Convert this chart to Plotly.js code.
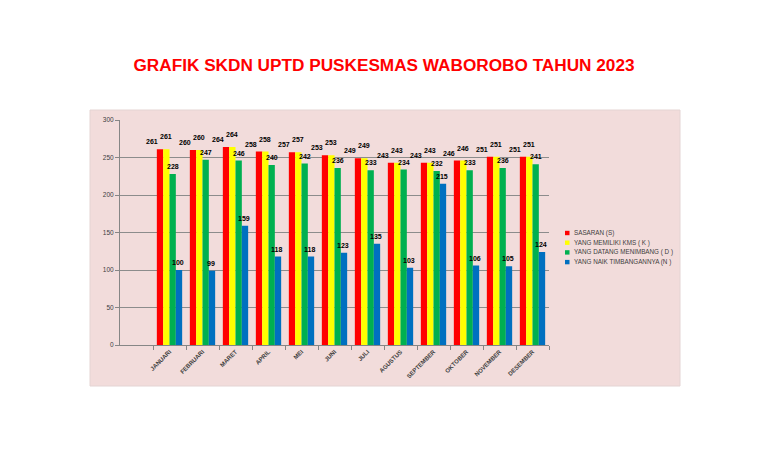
<!DOCTYPE html>
<html><head><meta charset="utf-8">
<script src="https://cdn.plot.ly/plotly-3.0.1.min.js"></script>
<style>html,body{margin:0;padding:0;background:#fff}#chart{width:768px;height:466px}</style>
</head><body><div id="chart"></div>
<script>
// ---- data ----
const months = ["JANUARI","FEBRUARI","MARET","APRIL","MEI","JUNI","JULI","AGUSTUS","SEPTEMBER","OKTOBER","NOVEMBER","DESEMBER"];
const sasaran = [261,260,264,258,257,253,249,243,243,246,251,251];
const memilikiKms = [261,260,264,258,257,253,249,243,243,246,251,251];
const datangMenimbang = [228,247,246,240,242,236,233,234,232,233,236,241];
const naikTimbangan = [100,99,159,118,118,123,135,103,215,106,105,124];
const seriesNames = ["SASARAN (S)","YANG MEMILIKI KMS ( K )","YANG DATANG MENIMBANG ( D )","YANG NAIK TIMBANGANNYA (N )"];
const yTicks = [0,50,100,150,200,250,300];

// ---- styles ----
const colors = ["#FF0000","#FFFF00","#00B050","#0070C0"];
const series = [sasaran, memilikiKms, datangMenimbang, naikTimbangan];
const pink = "#F2DCDB";
const bargap = 0.233;
const nS = series.length;
const barW = (1 - bargap) / nS;
const labelStyle = [ {dx:-8, dy:2}, {dx:0, dy:7}, {dx:0, dy:2}, {dx:-1, dy:2} ];

const traces = series.map((vals, s) => ({
  type: "bar", x: months, y: vals, name: seriesNames[s],
  marker: {color: colors[s], line: {width: 0}},
  showlegend: false, hoverinfo: "x+y+name"
}));

const annotations = [];
series.forEach((vals, s) => {
  const off = -0.5 + bargap / 2 + barW * (s + 0.5);
  vals.forEach((v, i) => {
    annotations.push({
      xref: "x", yref: "y", x: i + off, y: v, text: String(v),
      showarrow: false, yanchor: "bottom", xanchor: "center",
      xshift: labelStyle[s].dx, yshift: labelStyle[s].dy,
      font: {family: "Liberation Sans, Arial, sans-serif", size: 7, color: "#000", weight: "bold"}
    });
  });
});

// manual compact legend
const L = 120, T = 120, W = 429, H = 225;
const px = p => (p - L) / W;
const py = p => (T + H - p) / H;
const shapes = [{
  type: "rect", xref: "paper", yref: "paper", layer: "below",
  x0: px(90), x1: px(680), y0: py(386), y1: py(110),
  fillcolor: pink, line: {width: 1, color: "#E4D4D3"}
}];
seriesNames.forEach((nm, s) => {
  const cy = 233 + s * 9.7;
  shapes.push({type: "rect", xref: "paper", yref: "paper",
    x0: px(565), x1: px(569.5), y0: py(cy + 2.2), y1: py(cy - 2.2),
    fillcolor: colors[s], line: {width: 0}});
  annotations.push({xref: "paper", yref: "paper", x: px(571.5), y: py(cy),
    text: nm, showarrow: false, xanchor: "left", yanchor: "middle",
    font: {family: "Liberation Sans, Arial, sans-serif", size: 6.3, color: "#404040"}});
});

const layout = {
  width: 768, height: 466,
  paper_bgcolor: "#FFFFFF", plot_bgcolor: "rgba(0,0,0,0)",
  margin: {l: L, r: 768 - L - W, t: T, b: 466 - T - H, pad: 0},
  title: {text: "GRAFIK SKDN UPTD PUSKESMAS WABOROBO TAHUN 2023",
    font: {family: "Liberation Sans, Arial, sans-serif", size: 17.2, color: "#FF0000", weight: "bold"},
    x: 0.5, xanchor: "center", xref: "container", y: 1 - 65/466, yanchor: "middle", yref: "container"},
  barmode: "group", bargap: bargap, bargroupgap: 0,
  xaxis: {type: "category", range: [-1.5, months.length - 0.5], tickson: "boundaries",
    ticks: "outside", ticklen: 4, tickcolor: "#868686", showline: true, linecolor: "#868686",
    linewidth: 1, showgrid: false, tickangle: -45,
    tickfont: {family: "Liberation Sans, Arial, sans-serif", size: 6, color: "#404040", weight: "bold"}},
  yaxis: {range: [0, 300], tickvals: yTicks, ticks: "outside", ticklen: 4, tickcolor: "#868686",
    showline: true, linecolor: "#868686", linewidth: 1, showgrid: true, gridcolor: "#8C8C8C",
    gridwidth: 1, zeroline: false,
    tickfont: {family: "Liberation Sans, Arial, sans-serif", size: 6.5, color: "#404040"}},
  shapes: shapes, annotations: annotations,
  font: {family: "Liberation Sans, Arial, sans-serif"}
};
Plotly.newPlot("chart", traces, layout, {displayModeBar: false, staticPlot: true});
</script></body></html>
